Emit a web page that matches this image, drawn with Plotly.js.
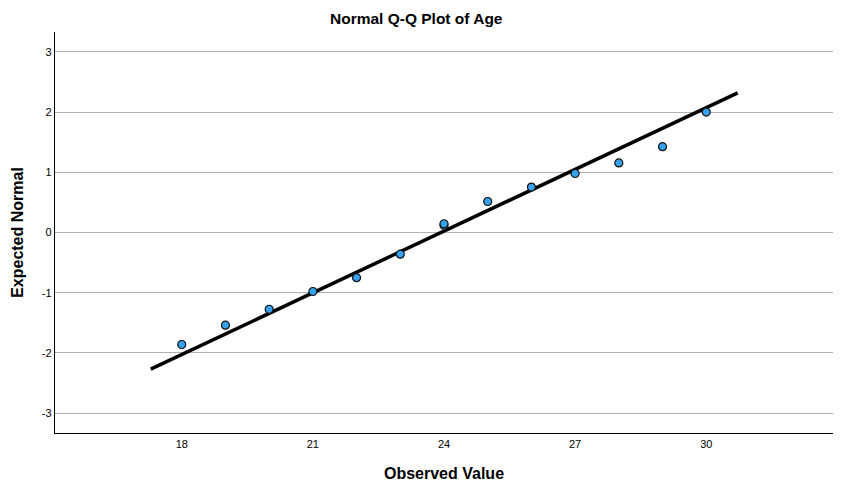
<!DOCTYPE html>
<html>
<head>
<meta charset="utf-8">
<script src="https://cdn.plot.ly/plotly-3.0.1.min.js"></script>
<style>html,body{margin:0;padding:0;background:#fff;}#chart{width:860px;height:500px;}</style>
</head>
<body>
<div id="chart"></div>
<script>
const observedAge = [18, 19, 20, 21, 22, 23, 24, 24, 25, 26, 27, 28, 29, 30];
const expectedNormal = [-1.86, -1.54, -1.275, -0.98, -0.75, -0.36, 0.12, 0.145, 0.515, 0.755, 0.98, 1.155, 1.425, 2.0];
const refLineX = [17.29, 30.72];
const refLineY = [-2.27, 2.32];
const yTicks = [-3, -2, -1, 0, 1, 2, 3];
const xTicks = [18, 21, 24, 27, 30];

const traces = [
  {
    x: refLineX, y: refLineY, type: 'scatter', mode: 'lines',
    line: {color: '#000000', width: 3.5}, hoverinfo: 'skip', showlegend: false
  },
  {
    x: observedAge, y: expectedNormal, type: 'scatter', mode: 'markers',
    marker: {size: 8, color: '#36a2ee', line: {color: '#111111', width: 1.2}},
    showlegend: false
  }
];

const layout = {
  width: 860, height: 500,
  margin: {l: 55, r: 27, t: 32, b: 67},
  paper_bgcolor: '#ffffff', plot_bgcolor: '#ffffff',
  font: {family: 'Arial, "Liberation Sans", sans-serif', color: '#000000'},
  title: {text: '<b>Normal Q-Q Plot of Age</b>', font: {size: 15.5, color: '#000'}, x: 0.484, xref: 'container', y: 0.963, yref: 'container', yanchor: 'middle'},
  xaxis: {
    range: [15.1, 32.9], tickvals: xTicks, ticktext: xTicks.map(String),
    showgrid: false, zeroline: false, showline: true, linecolor: '#000', linewidth: 1.3,
    ticks: '', tickfont: {size: 11}, ticklen: 0,
    title: {text: '<b>Observed Value</b>', font: {size: 16}, standoff: 19}
  },
  yaxis: {
    range: [-3.33, 3.33], tickvals: yTicks, ticktext: yTicks.map(String),
    showgrid: true, gridcolor: '#b0b0b0', gridwidth: 1, zeroline: false,
    showline: true, linecolor: '#000', linewidth: 1.3,
    ticks: '', tickfont: {size: 11},
    title: {text: '<b>Expected Normal</b>', font: {size: 16}, standoff: 14}
  }
};

Plotly.newPlot('chart', traces, layout, {displayModeBar: false, staticPlot: true});
</script>
</body>
</html>
